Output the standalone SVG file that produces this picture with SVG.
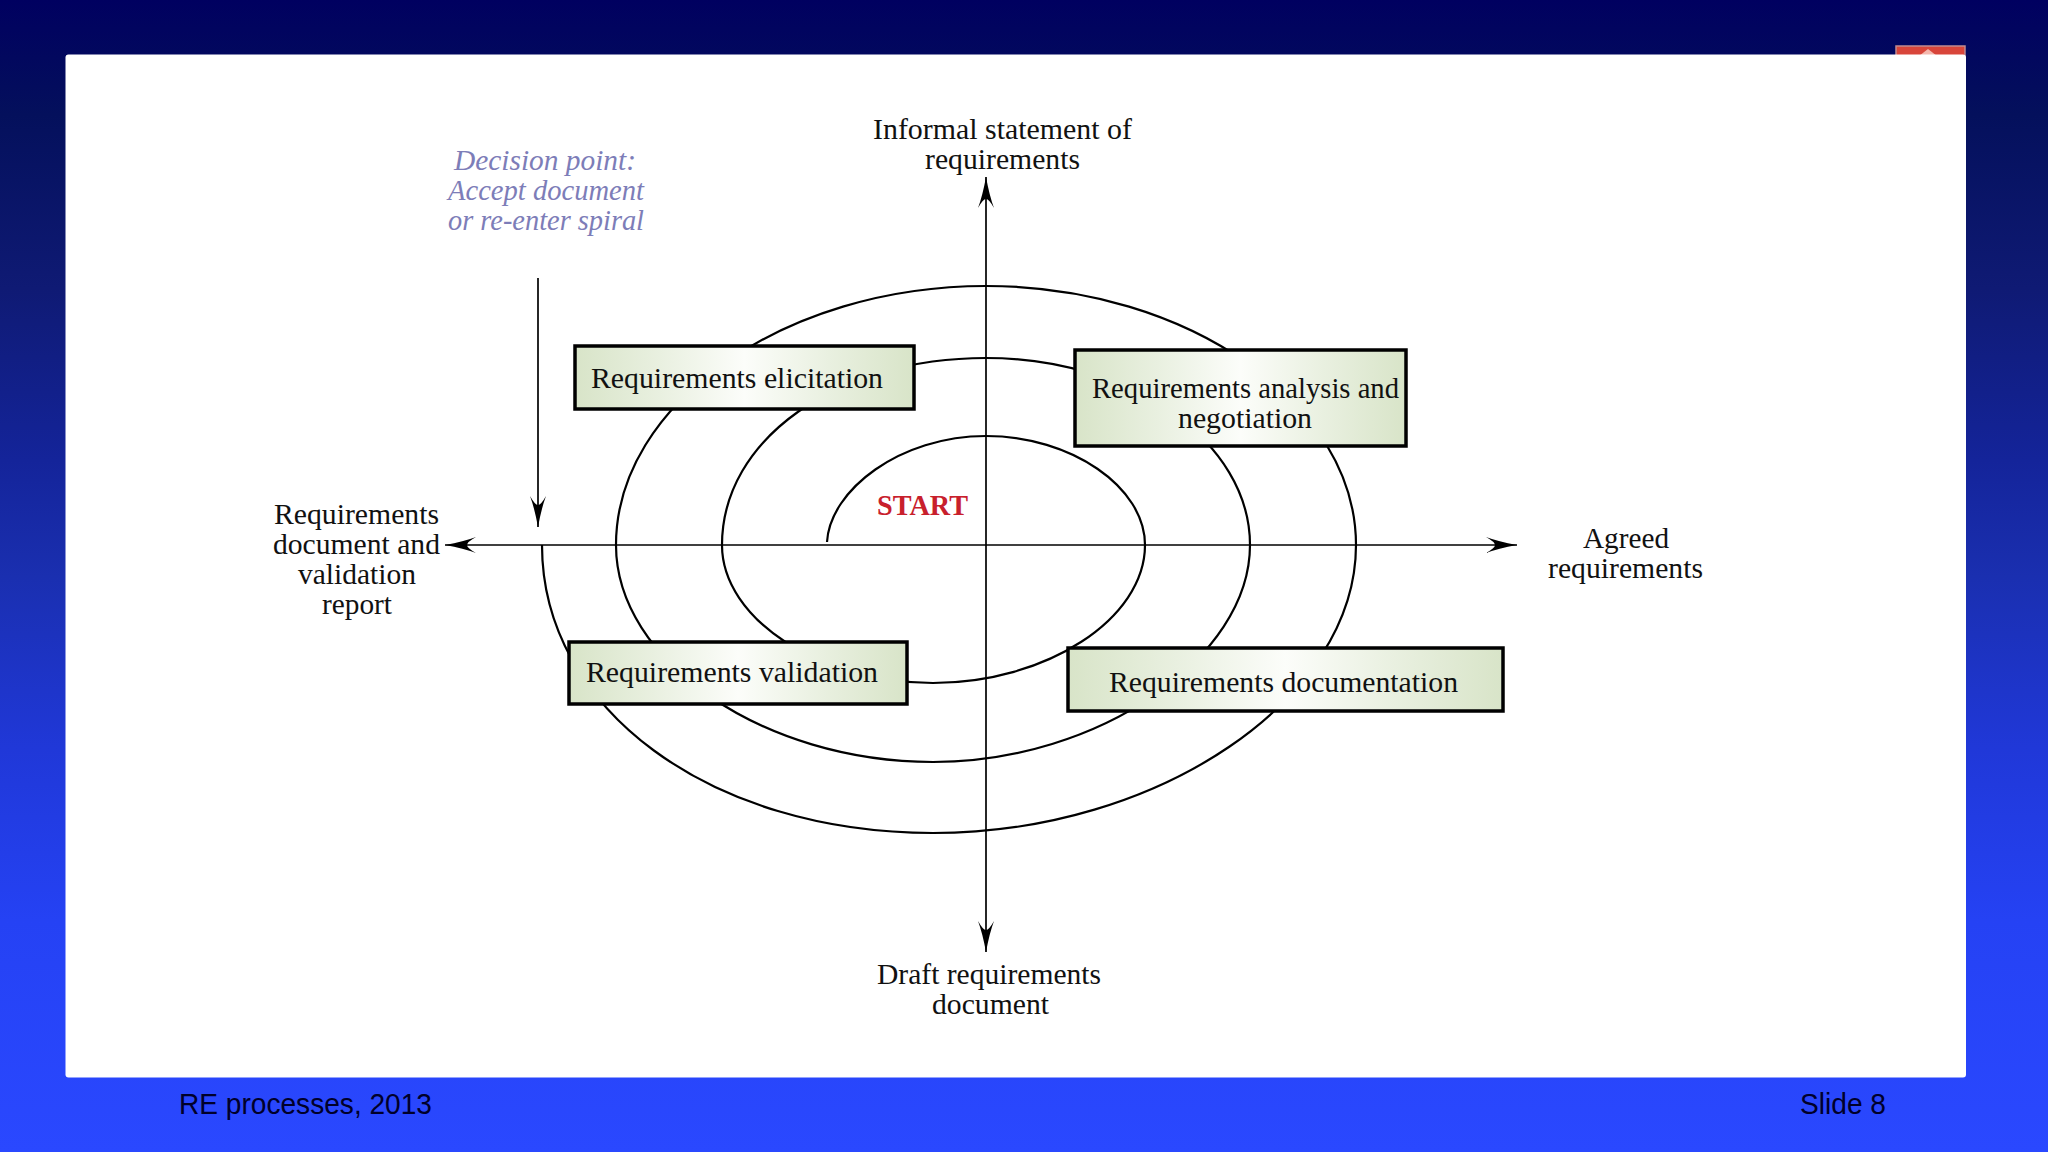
<svg xmlns="http://www.w3.org/2000/svg" width="2048" height="1152" viewBox="0 0 2048 1152">
<defs>
<linearGradient id="bg" x1="0" y1="0" x2="0" y2="1"><stop offset="0" stop-color="#000060"/><stop offset="0.1" stop-color="#04105c"/><stop offset="0.25" stop-color="#0f1a74"/><stop offset="0.4" stop-color="#14249a"/><stop offset="0.5" stop-color="#1a2fb0"/><stop offset="0.65" stop-color="#2038d8"/><stop offset="0.8" stop-color="#2542f4"/><stop offset="1" stop-color="#2a48ff"/></linearGradient>
<linearGradient id="box" x1="0" y1="0" x2="1" y2="0"><stop offset="0" stop-color="#d8e4c8"/><stop offset="0.25" stop-color="#e9f0e0"/><stop offset="0.5" stop-color="#fcfdfa"/><stop offset="0.75" stop-color="#e9f0e0"/><stop offset="1" stop-color="#d8e4c8"/></linearGradient>
<marker id="arrow" markerUnits="userSpaceOnUse" markerWidth="32" markerHeight="17" refX="31" refY="8" orient="auto"><path d="M31,8 Q12,4.500 0,0 Q9,5 9,8 Q9,11 0,16 Q12,11.500 31,8 Z" fill="#000"/></marker>
</defs>
<style>
text{font-family:"Liberation Serif","Times New Roman",serif;font-size:30px;fill:#111;text-anchor:start}
.box{fill:url(#box);stroke:#000;stroke-width:3.5}
.c{fill:none;stroke:#000;stroke-width:2.2}
.a{fill:none;stroke:#000;stroke-width:1.7;marker-end:url(#arrow)}
.foot{font-family:"Liberation Sans",Arial,sans-serif;font-size:29px;fill:#00002a}
.note{font-style:italic;fill:#7d7db8}
</style>
<rect width="2048" height="1152" fill="url(#bg)"/>
<rect x="1896" y="46" width="69" height="12" fill="#d8453a" stroke="#c08a90" stroke-width="1.500"/>
<path d="M1919,56 L1928,49 L1937,56 Z" fill="#f4b8ae"/>
<rect x="65.500" y="54.500" width="1900.500" height="1023" rx="3" fill="#fff"/>
<g id="connectors">
<path class="c" d="M827,542 C830,490 900,436 986,436 C1071,436 1145,487 1145,545 C1145,619 1046,683 933,683 C820,683 722,619 722,545 C722,439 837,358 986,358 C1131,358 1250,442 1250,545 C1250,658 1098,762 933,762 C763,762 616,661 616,545 C616,404 784,286 986,286 C1188,286 1356,404 1356,545 C1356,699 1159,833 933,833 C710,833 542,709 542,545"/>
<line class="a" x1="986" y1="545" x2="986" y2="177"/>
<line class="a" x1="986" y1="545" x2="986" y2="952"/>
<line class="a" x1="986" y1="545" x2="1517" y2="545"/>
<line class="a" x1="986" y1="545" x2="445" y2="545"/>
<line class="a" x1="538" y1="278" x2="538" y2="527"/>
</g>
<g id="elicitation"><rect class="box" x="575" y="346" width="339" height="63"/><text x="591" y="388" textLength="292" lengthAdjust="spacingAndGlyphs">Requirements elicitation</text></g>
<g id="analysis"><rect class="box" x="1075" y="350" width="331" height="96"/><text x="1092" y="398" textLength="307" lengthAdjust="spacingAndGlyphs">Requirements analysis and</text><text x="1178" y="428" textLength="134" lengthAdjust="spacingAndGlyphs">negotiation</text></g>
<g id="validation"><rect class="box" x="569" y="642" width="338" height="62"/><text x="586" y="682" textLength="292" lengthAdjust="spacingAndGlyphs">Requirements validation</text></g>
<g id="documentation"><rect class="box" x="1068" y="648" width="435" height="63"/><text x="1109" y="692" textLength="349" lengthAdjust="spacingAndGlyphs">Requirements documentation</text></g>
<g id="labels">
<text x="873" y="139" textLength="259" lengthAdjust="spacingAndGlyphs">Informal statement of</text><text x="925" y="169" textLength="155" lengthAdjust="spacingAndGlyphs">requirements</text>
<text x="1583" y="548" textLength="86" lengthAdjust="spacingAndGlyphs">Agreed</text><text x="1548" y="578" textLength="155" lengthAdjust="spacingAndGlyphs">requirements</text>
<text x="877" y="984" textLength="224" lengthAdjust="spacingAndGlyphs">Draft requirements</text><text x="932" y="1014" textLength="117" lengthAdjust="spacingAndGlyphs">document</text>
<text x="274" y="524" textLength="165" lengthAdjust="spacingAndGlyphs">Requirements</text><text x="273" y="554" textLength="167" lengthAdjust="spacingAndGlyphs">document and</text><text x="298" y="584" textLength="118" lengthAdjust="spacingAndGlyphs">validation</text><text x="322" y="614" textLength="70" lengthAdjust="spacingAndGlyphs">report</text>
<text class="note" x="454" y="170" textLength="182" lengthAdjust="spacingAndGlyphs">Decision point:</text><text class="note" x="448" y="200" textLength="196" lengthAdjust="spacingAndGlyphs">Accept document</text><text class="note" x="448" y="230" textLength="196" lengthAdjust="spacingAndGlyphs">or re-enter spiral</text>
<text x="877" y="515" textLength="91" lengthAdjust="spacingAndGlyphs" style="font-weight:bold;fill:#c8202c">START</text>
</g>
<text class="foot" x="179" y="1114" textLength="253" lengthAdjust="spacingAndGlyphs">RE processes, 2013</text>
<text class="foot" x="1800" y="1114" textLength="86" lengthAdjust="spacingAndGlyphs">Slide 8</text>
</svg>
